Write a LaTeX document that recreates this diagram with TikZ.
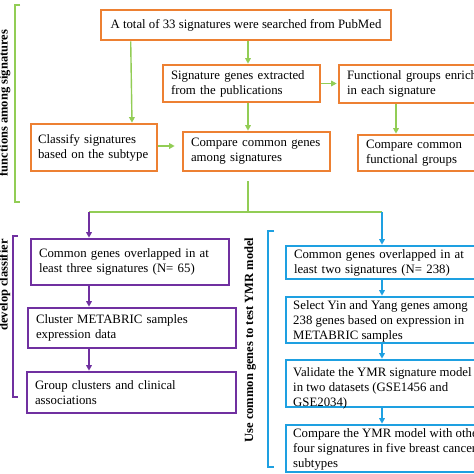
\documentclass[tikz,border=0pt]{standalone}
\usepackage{fontspec}
\setmainfont{Liberation Serif}
\usetikzlibrary{arrows.meta}
\definecolor{orgc}{RGB}{237,128,50}
\definecolor{grnc}{RGB}{146,205,85}
\definecolor{purc}{RGB}{112,48,160}
\definecolor{bluc}{RGB}{30,160,225}
\begin{document}
\begin{tikzpicture}[x=1pt,y=-1pt,
  every node/.style={font=\fontsize{12.8}{15}\selectfont, text=black},
  box/.style={draw, line width=2.6pt, inner xsep=8pt, inner ysep=0pt, align=left},
  obox/.style={box, draw=orgc},
  pbox/.style={box, draw=purc},
  bbox/.style={box, draw=bluc},
  txt/.style={align=left, anchor=north west, inner sep=0pt},
  conn/.style={line width=1.4pt, -{Triangle[length=5.5pt,width=5.5pt]}},
  gconn/.style={conn, color=grnc},
  pconn/.style={conn, color=purc},
  bconn/.style={conn, color=bluc},
  gline/.style={line width=1.4pt, color=grnc},
  brk/.style={line width=2.2pt},
  lab/.style={font=\fontsize{12.5}{15}\selectfont\bfseries, rotate=90, anchor=base, inner sep=0pt}]
\useasboundingbox (0,0) rectangle (474,474);
\fill[white] (0,0) rectangle (474,474);

% orange boxes
\node[obox, align=center, minimum width=290pt, minimum height=30pt] (top) at (246,25) {A total of 33 signatures were searched from PubMed};
\node[obox, text width=141pt, minimum height=37pt] (sig) at (241.5,83.5) {Signature genes extracted\\from the publications};
\node[obox, text width=165pt, minimum height=38pt] (func) at (429.5,84) {Functional groups enriched\\in each signature};
\node[obox, inner xsep=7pt, text width=112pt, minimum height=47pt] (classify) at (94,147.5) {Classify signatures\\based on the subtype};
\node[obox, text width=131pt, minimum height=39pt] (cmpgenes) at (256.5,151.5) {Compare common genes\\among signatures};
\node[obox, text width=146pt, minimum height=36pt] (cmpfunc) at (439,153) {Compare common\\functional groups};

% purple boxes
\node[pbox, text width=182pt, minimum height=46pt] (p1) at (130,262) {Common genes overlapped in at\\least three signatures (N= 65)};
\node[pbox, text width=192pt, minimum height=40pt] (p2) at (132,328) {Cluster METABRIC samples\\expression data};
\node[pbox, text width=193pt, minimum height=41pt] (p3) at (131.5,392.5) {Group clusters and clinical\\associations};

% blue boxes
\node[bbox, text width=218pt, minimum height=33pt] (b1) at (403,262.5) {Common genes overlapped in at\\least two signatures (N= 238)};
\node[bbox, minimum width=234pt, minimum height=46pt] (b2) at (403,320) {};
\node[bbox, minimum width=234pt, minimum height=47pt] (b3) at (403,383.5) {};
\node[bbox, minimum width=234pt, minimum height=47pt] (b4) at (403,448.5) {};
\node[txt] (b2t) at (293,300.3) {Select Yin and Yang genes among\\238 genes based on expression in\\METABRIC samples};
\node[txt] (b3t) at (293,367.3) {Validate the YMR signature model\\in two datasets (GSE1456 and\\GSE2034)};
\node[txt] (b4t) at (293,428.3) {Compare the YMR model with other\\four signatures in five breast cancer\\subtypes};

% green connectors
\draw[gconn] ([xshift=31pt]top.south west) -- ([xshift=38pt]classify.north);
\coordinate (t1) at ([xshift=2pt]top.south);
\draw[gconn] (t1) -- (t1 |- sig.north);
\coordinate (s1) at ([xshift=6.5pt]sig.south);
\draw[gconn] (s1) -- (s1 |- cmpgenes.north);
\draw[gconn, shorten >=1pt] (sig.east) -- (sig.east -| func.west);
\coordinate (f1) at ([xshift=-33.5pt]func.south);
\draw[gconn] (f1) -- (f1 |- cmpfunc.north);
\coordinate (c1) at ([yshift=1.5pt]classify.east);
\draw[gconn, shorten >=7pt] (c1) -- (c1 -| cmpgenes.west);
\coordinate (s2) at ([xshift=-8.5pt]cmpgenes.south);
\coordinate (pl) at (89,212);
\coordinate (bl) at (382,212);
\draw[gline, shorten <=9pt] (s2) -- (s2 |- pl);
\draw[gline] (pl) -- (bl);

% purple connectors
\draw[pconn] (pl) -- (pl |- p1.north);
\draw[pconn] (pl |- p1.south) -- (pl |- p2.north);
\draw[pconn] (pl |- p2.south) -- (pl |- p3.north);

% blue connectors
\draw[bconn] (bl) -- (bl |- b1.north);
\draw[bconn] (bl |- b1.south) -- (bl |- b2.north);
\draw[bconn] (bl |- b2.south) -- (bl |- b3.north);
\draw[bconn] (bl |- b3.south) -- (bl |- b4.north);

% brackets
\draw[brk, grnc] (20,5) -- (15,5) -- (15,202) -- (20,202);
\draw[brk, purc] (18,236) -- (13,236) -- (13,397) -- (18,397);
\draw[brk, bluc] (274,231) -- (268,231) -- (268,467) -- (274,467);

% side labels
\node[lab] (l1) at (7.5,103) {functions among signatures};
\node[lab] (l2) at (7.5,285) {develop classifier};
\node[lab] (l3) at (253,340) {Use common genes to test YMR model};
\end{tikzpicture}
\end{document}
